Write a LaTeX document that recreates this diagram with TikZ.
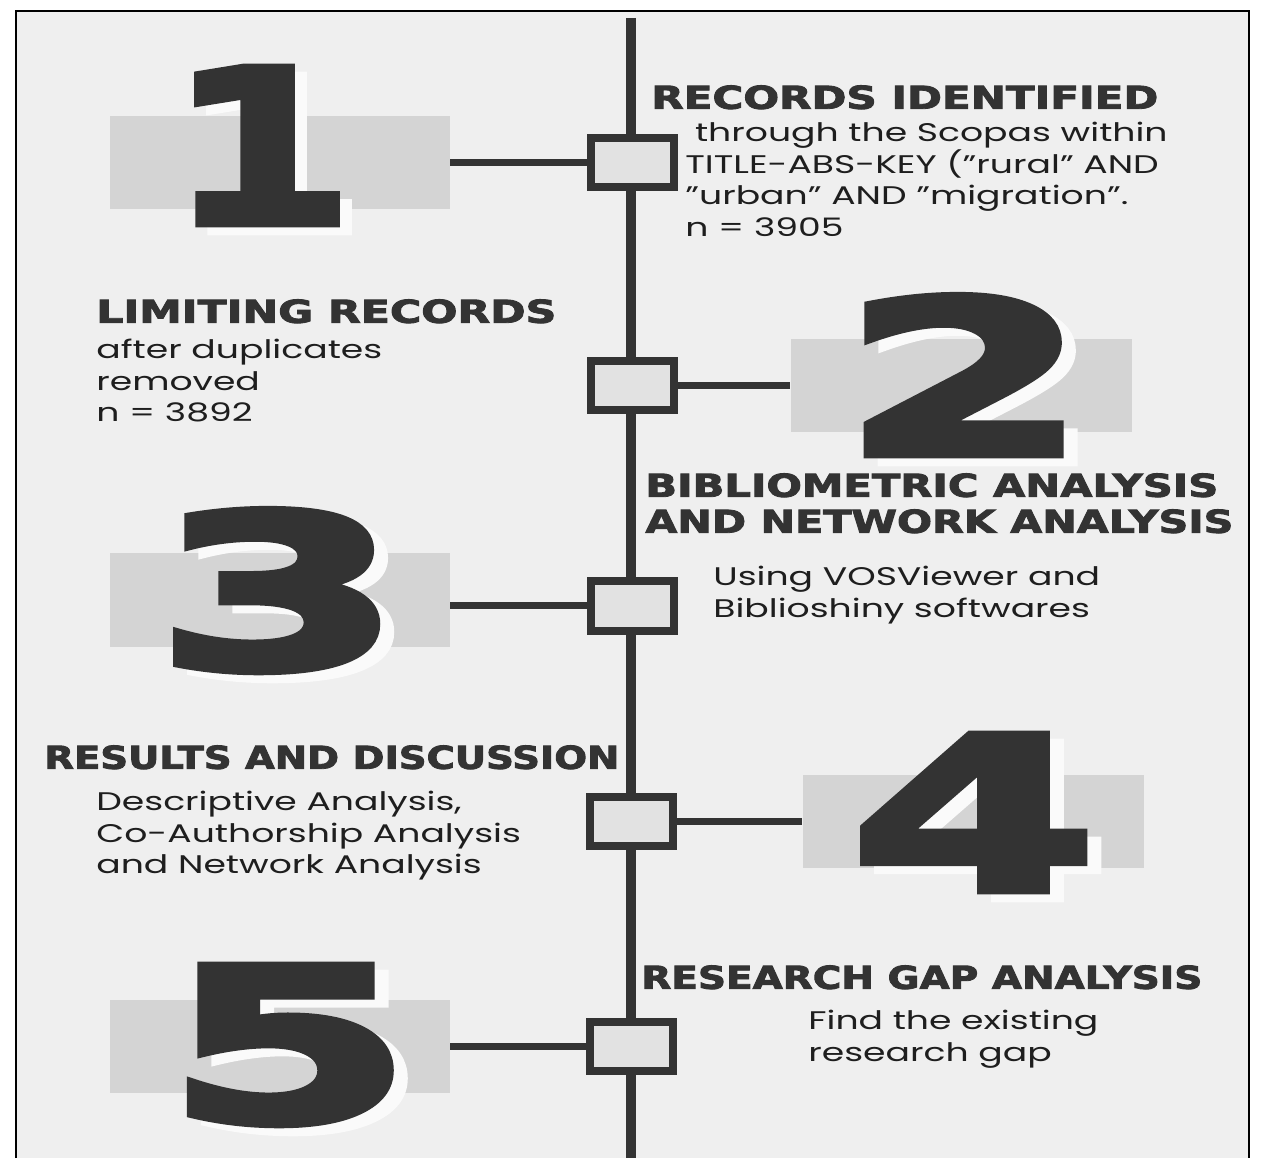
\documentclass[tikz,border=0pt]{standalone}
\usepackage{graphicx}
\usepackage{fontspec}
\setmainfont{Poppins}[FakeStretch=1.42]
\newfontfamily\headfont{DejaVu Sans Bold}[FakeBold=2.5]
\newfontfamily\digitfont{DejaVu Sans Bold}[FakeBold=4, FakeStretch=1.7]
\usepackage{tikz}
\usetikzlibrary{positioning}
\definecolor{paper}{HTML}{EFEFEF}
\definecolor{ink}{HTML}{333333}
\definecolor{band}{HTML}{D4D4D4}
\definecolor{boxfill}{HTML}{E2E2E2}
\definecolor{bodytext}{HTML}{1E1E1E}
\definecolor{glow}{HTML}{FAFAFA}
% heading set to a given width, height kept
\newcommand{\headwidth}[2]{\resizebox{#1}{\height}{#2}}
\tikzset{
  spine/.style={draw=ink, line width=2mm},
  marker/.style={rectangle, draw=ink, fill=boxfill, line width=1.6mm,
                 minimum width=16.6mm, minimum height=9.8mm, inner sep=0},
  numband/.style={rectangle, fill=band, minimum width=68mm, minimum height=18.6mm, inner sep=0},
  bignum/.style={font=\digitfont\fontsize{121}{121}\selectfont, text=ink, inner sep=0, anchor=base},
  numglow/.style={bignum, text=glow},
  head/.style={font=\headfont\fontsize{18}{20.5}\selectfont, text=ink, inner sep=0,
               anchor=north west},
  body/.style={font=\fontsize{14.5}{17.9}\selectfont, text=bodytext, inner sep=0,
               align=left, anchor=north west},
  link/.style={draw=ink, line width=1.4mm}
}
\begin{document}
\begin{tikzpicture}[x=0.2mm, y=-0.2mm]
  \useasboundingbox (0,0) rectangle (1266,1164);
  \fill[paper] (16,11) rectangle (1249,1158);
  \draw[line width=0.3mm] (16,1158) -- (16,11) -- (1249,11) -- (1249,1158);

  % timeline
  \coordinate (top) at (631,18);
  \coordinate (bottom) at (631,1158);
  \draw[spine] (top) -- (bottom);

  \node[numband] (band1) at (280,163) {};
  \node[numband, minimum width=68.2mm] (band2) at (961,386) {};
  \node[numband] (band3) at (280,600) {};
  \node[numband, minimum width=68.2mm] (band4) at (973,821) {};
  \node[numband] (band5) at (280,1046) {};

  \node[numglow] (glow1) at (273,231) {\scalebox{0.75}[1]{1}};
  \node[bignum] (num1) at (261,223) {\scalebox{0.75}[1]{1}};
  \node[numglow] (glow2) at (979,462) {2};
  \node[bignum] (num2) at (965,454) {2};
  \node[numglow] (glow3) at (293,676) {3};
  \node[bignum] (num3) at (279,668) {3};
  \node[numglow] (glow4) at (988,898) {4};
  \node[bignum] (num4) at (974,890) {4};
  \node[numglow] (glow5) at (303,1129) {5};
  \node[bignum] (num5) at (289,1121) {5};

  \node[marker] (mark1) at (632,163) {};
  \node[marker] (mark2) at (632,386) {};
  \node[marker] (mark3) at (632,606) {};
  \node[marker] (mark4) at (631,821) {};
  \node[marker] (mark5) at (631,1046) {};

  \draw[link] (mark1.west) -- (mark1.west -| band1.east);
  \draw[link] (mark2.east) -- (mark2.east -| band2.west);
  \draw[link] (mark3.west) -- (mark3.west -| band3.east);
  \draw[link] (mark4.east) -- (mark4.east -| band4.west);
  \draw[link] (mark5.west) -- (mark5.west -| band5.east);

  % step texts
  \node[head] (head1) at (651,85) {\headwidth{101.4mm}{RECORDS IDENTIFIED}};
  \node[body] (text1) at (685,122) {\ through the Scopas within\\TITLE-ABS-KEY ("rural" AND\\"urban" AND "migration".\\n = 3905};

  \node[head] (head2) at (96,299) {\headwidth{92mm}{LIMITING RECORDS}};
  \node[body] (text2) at (96,339) {after duplicates\\removed\\n = 3892};

  \node[head] (head3) at (645,473) {\headwidth{114.6mm}{BIBLIOMETRIC ANALYSIS}};
  \node[head] (head3b) at (645,509) {\headwidth{117.6mm}{AND NETWORK ANALYSIS}};
  \node[body] (text3) at (713,566) {Using VOSViewer and\\Biblioshiny softwares};

  \node[head] (head4) at (44,745) {\headwidth{115mm}{RESULTS AND DISCUSSION}};
  \node[body] (text4) at (96,791) {Descriptive Analysis,\\Co-Authorship Analysis\\and Network Analysis};

  \node[head] (head5) at (641,965) {\headwidth{112.2mm}{RESEARCH GAP ANALYSIS}};
  \node[body] (text5) at (808,1010) {Find the existing\\research gap};
\end{tikzpicture}
\end{document}
